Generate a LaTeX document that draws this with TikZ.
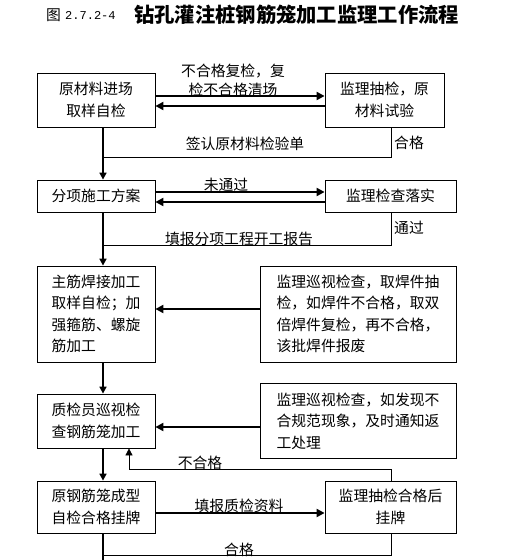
\documentclass[tikz,border=0pt]{standalone}
\usepackage{fontspec}
\setmainfont{Noto Sans CJK SC}
\newfontfamily\monofont{Liberation Mono}
\usetikzlibrary{arrows.meta}
\begin{document}
\begin{tikzpicture}[x=1pt,y=-1pt]
					\tikzstyle{every node}=[font=\fontsize{14.8}{21.5}\selectfont,inner sep=0pt,align=center];
					\tikzstyle{box}=[draw,line width=0.8pt];
					\tikzstyle{note}=[box,align=left];
					\tikzstyle{flow}=[line width=1.6pt,-{Triangle[width=7pt,length=7pt]}];
					\tikzstyle{link}=[line width=2.2pt,-{Triangle[width=8pt,length=8pt]}];
					\tikzstyle{back}=[line width=0.8pt];
					\useasboundingbox (0,0) rectangle (529,560);
					% title
					\path (46,15) node[anchor=west] (t0) {图};
					\path (65,15) node[anchor=west] (t1) {\monofont\fontsize{12}{14}\selectfont 2.7.2-4};
					\path (134,15) node[anchor=west] (t2) {\bfseries\fontsize{20.3}{24}\selectfont 钻孔灌注桩钢筋笼加工监理工作流程};
					% boxes
					\path (96,100) node[box,minimum width=118pt,minimum height=54pt] (b1) {原材料进场\\取样自检};
					\path (384.5,100) node[box,minimum width=119pt,minimum height=54pt] (b2) {监理抽检，原\\材料试验};
					\path (96,196) node[box,minimum width=118pt,minimum height=32pt] (b3) {分项施工方案};
					\path (390.5,196) node[box,minimum width=131pt,minimum height=32pt] (b4) {监理检查落实};
					\path (96,314) node[note,minimum width=118pt,minimum height=96pt] (b5) {主筋焊接加工\\取样自检；加\\强箍筋、螺旋\\筋加工};
					\path (358,314) node[note,minimum width=196pt,minimum height=96pt] (b6) {监理巡视检查，取焊件抽\\检，如焊件不合格，取双\\倍焊件复检，再不合格，\\该批焊件报废};
					\path (96,421) node[box,minimum width=118pt,minimum height=54pt] (b7) {质检员巡视检\\查钢筋笼加工};
					\path (358,421) node[note,minimum width=196pt,minimum height=75pt] (b8) {监理巡视检查，如发现不\\合规范现象，及时通知返\\工处理};
					\path (96,507) node[box,minimum width=118pt,minimum height=52pt] (b9) {原钢筋笼成型\\自检合格挂牌};
					\path (390.5,507) node[box,minimum width=131pt,minimum height=52pt] (b10) {监理抽检合格后\\挂牌};
					% joints
					\coordinate (s) at (103,0);
					\coordinate (r) at (391,0);
					\coordinate (j1) at (103,157);
					\coordinate (j2) at (103,245);
					\coordinate (j3) at (129,469);
					\coordinate (j4) at (103,555);
					\coordinate (e) at (103,560);
					% main line
					\draw[flow] (b1.south -| s) -- (b3.north -| s);
					\draw[flow] (b3.south -| s) -- (b5.north -| s);
					\draw[flow] (b5.south -| s) -- (b7.north -| s);
					\draw[flow] (b7.south -| s) -- (b9.north -| s);
					\draw[line width=1.6pt] (b9.south -| s) -- (e);
					% side arrows
					\draw[link] ([yshift=4pt]b1.east) -- ([yshift=4pt]b2.west);
					\draw[link] ([yshift=-6pt]b2.west) -- ([yshift=-6pt]b1.east);
					\draw[link] ([yshift=4pt]b3.east) -- ([yshift=4pt]b4.west);
					\draw[link] ([yshift=-6pt]b4.west) -- ([yshift=-6pt]b3.east);
					\draw[link] ([yshift=5pt]b6.west) -- ([yshift=5pt]b5.east);
					\draw[link] ([yshift=-6pt]b8.west) -- ([yshift=-6pt]b7.east);
					\draw[link] ([yshift=-6pt]b9.east) -- ([yshift=-6pt]b10.west);
					% return lines
					\draw[back] (b2.south -| r) |- (j1);
					\draw[back] (b4.south -| r) |- (j2);
					\draw[back,-{Triangle[width=7pt,length=7pt]}] (b10.north -| r) |- (j3) -- (b7.south -| j3);
					\draw[back] (b10.south -| r) |- (j4);
					% labels
					\path (233,80) node[font=\fontsize{14.8}{19}\selectfont] (l0) {不合格复检，复\\检不合格清场};
					\path (245,144) node (l1) {签认原材料检验单};
					\path (409,143) node (l2) {合格};
					\path (226,185) node (l3) {未通过};
					\path (409,228) node (l4) {通过};
					\path (239,239) node (l5) {填报分项工程开工报告};
					\path (200,463) node (l6) {不合格};
					\path (239,506) node (l7) {填报质检资料};
					\path (239,550) node (l8) {合格};
\end{tikzpicture}
\end{document}
